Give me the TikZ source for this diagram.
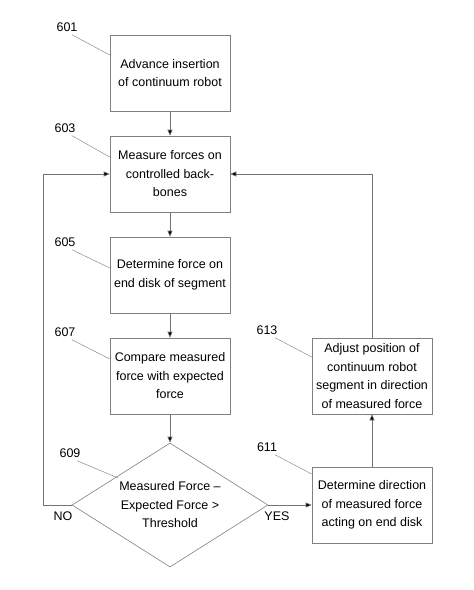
\documentclass[tikz,border=0pt]{standalone}
\usepackage{fontspec}
\setmainfont{Liberation Sans}
\usetikzlibrary{arrows.meta,shapes.geometric}

\begin{document}
\begin{tikzpicture}[x=1pt,y=1pt,->,>={Triangle[length=6pt,width=5pt,fill=black]},
			thick,line width=0.6pt,draw=black!55,
			step node/.style={rectangle,draw=black!50,minimum width=120pt,minimum height=76pt,inner sep=1pt,align=center,font=\fontsize{12.5}{18.5}\selectfont},
			test node/.style={diamond,aspect=1.58,draw=black!50,minimum width=196pt,minimum height=124pt,inner sep=-4pt,align=center,font=\fontsize{12.5}{18.5}\selectfont},
			ref node/.style={inner sep=0pt,font=\fontsize{12.5}{14}\selectfont},
			leader/.style={-,draw=black!45,line width=0.5pt}]

			\useasboundingbox (0,0) rectangle (474,-590);

			\node[step node] (601) at (170,-73) {Advance insertion\\of continuum robot};
			\node[step node] (603) at (170,-174) {Measure forces on\\controlled back-\\bones};
			\node[step node] (605) at (170,-275) {Determine force on\\end disk of segment};
			\node[step node] (607) at (170,-376) {Compare measured\\force with expected\\force};
			\node[test node] (609) at (170,-505) {Measured Force --\\Expected Force >\\Threshold};
			\node[step node] (611) at (372,-505) {Determine direction\\of measured force\\acting on end disk};
			\node[step node] (613) at (372,-376) {Adjust position of\\continuum robot\\segment in direction\\of measured force};

			% reference numerals
			\node[ref node] (l601) at (67,-27) {601};
			\node[ref node] (l603) at (65,-128) {603};
			\node[ref node] (l605) at (65,-242) {605};
			\node[ref node] (l607) at (65,-332) {607};
			\node[ref node] (l609) at (70,-453) {609};
			\node[ref node] (l611) at (267,-447) {611};
			\node[ref node] (l613) at (267,-330) {613};

			\draw[leader] ([xshift=5pt,yshift=-3pt]l601.south) -- ([yshift=18pt]601.west);
			\draw[leader] ([xshift=7pt,yshift=-3pt]l603.south) -- ([yshift=17pt]603.west);
			\draw[leader] ([xshift=7pt,yshift=-3pt]l605.south) -- ([yshift=7pt]605.west);
			\draw[leader] ([xshift=7pt,yshift=-3pt]l607.south) -- ([yshift=17pt]607.west);
			\draw[leader] ([xshift=7pt,yshift=-3pt]l609.south) -- ([xshift=-3pt,yshift=-4pt]609.north west);
			\draw[leader] ([xshift=8pt,yshift=-3pt]l611.south) -- ([yshift=31pt]611.west);
			\draw[leader] ([xshift=8pt,yshift=-3pt]l613.south) -- ([yshift=19pt]613.west);

			\path
			(601) edge (603)
			(603) edge (605)
			(605) edge (607)
			(607) edge (609)
			(609) edge (611)
			(611) edge (613);

			\draw (609.west) -- ++(-28,0) |- (603.west);
			\draw (613.north) |- (603.east);

			\node[ref node] (no) at (63,-516) {NO};
			\node[ref node] (yes) at (277,-516) {YES};

		\end{tikzpicture}
\end{document}
